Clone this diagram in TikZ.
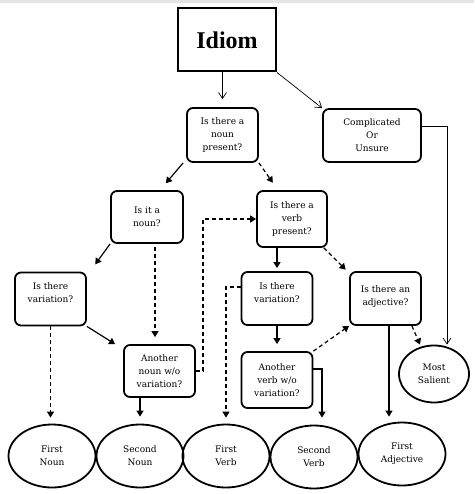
\documentclass[tikz,border=0pt]{standalone}
\usepackage{fontspec}
\setmainfont{DejaVu Serif}
\newfontfamily\idiomfont{Liberation Serif}
\usepackage{tikz}
\usetikzlibrary{positioning, arrows.meta, shapes.geometric}

\begin{document}
\begin{tikzpicture}[x=1pt,y=-1pt,
  qbox/.style={draw,rounded corners=6pt,line width=1.8pt,align=center,inner sep=0pt,
    font=\fontsize{9}{13}\selectfont},
  endoval/.style={ellipse,draw,line width=1.8pt,align=center,inner sep=0pt,
    minimum width=87pt,minimum height=63pt,font=\fontsize{9}{13}\selectfont},
  solidarr/.style={-{Triangle[length=6pt,width=7pt]},line width=1.2pt},
  dasharr/.style={-{Triangle[length=6pt,width=7pt]},line width=1.2pt,dash pattern=on 4pt off 3pt},
  thinarr/.style={-{Straight Barb[length=6pt,width=8pt]},line width=0.7pt}]
  \useasboundingbox (0,0) rectangle (474,494);
  \fill[gray!20] (0,0) rectangle (474,3);

  % boxes
  \node [draw,line width=2pt,minimum width=98pt,minimum height=63pt,font=\idiomfont\bfseries\fontsize{24}{28}\selectfont]
    (idiom) at (227,40) {Idiom};
  \node [qbox,minimum width=71pt,minimum height=54pt] (nounq) at (222.5,135) {Is there a\\noun\\present?};
  \node [qbox,minimum width=98pt,minimum height=53pt] (compl) at (372,135.5) {Complicated\\Or\\Unsure};
  \node [qbox,minimum width=72pt,minimum height=52pt] (isnoun) at (147,217) {Is it a\\noun?};
  \node [qbox,minimum width=70pt,minimum height=56pt] (verbq) at (292,219) {Is there a\\verb\\present?};
  \node [qbox,minimum width=71pt,minimum height=53pt,text depth=12pt] (varL) at (50.5,299) {Is there\\variation?};
  \node [qbox,minimum width=71pt,minimum height=53pt,text depth=12pt] (varR) at (277,298.5) {Is there\\variation?};
  \node [qbox,minimum width=71pt,minimum height=53pt,text depth=6pt] (adjq) at (385.5,298.5) {Is there an\\adjective?};
  \node [qbox,minimum width=71pt,minimum height=52pt] (anoun) at (159.5,371) {Another\\noun w/o\\variation?};
  \node [qbox,minimum width=71pt,minimum height=56pt] (averb) at (277,380) {Another\\verb w/o\\variation?};

  % outcomes
  \foreach \nm/\x/\y/\txt in {fnoun/52/456/{First\\Noun},snoun/140/456/{Second\\Noun},
      fverb/226/456/{First\\Verb},sverb/314/457/{Second\\Verb},fadj/402/454/{First\\Adjective}}
    \node [endoval] (\nm) at (\x,\y) {\txt};
  \node [endoval,minimum width=70pt,minimum height=57pt] (most) at (434,374) {Most\\Salient};

  % connectors
  \draw [thinarr,shorten >=8pt] (nounq.north |- idiom.south) -- (nounq.north);
  \draw [thinarr] (idiom.south east) -- (compl.north west);
  \draw [thinarr] ([yshift=9pt]compl.east) -| ([xshift=13pt]most.north);

  \draw [solidarr,shorten >=9pt] ([xshift=-3pt]nounq.south west) -- ([xshift=13pt]isnoun.north);
  \draw [dasharr,shorten >=9pt] (nounq.south east) -- ([xshift=-14pt]verbq.north);
  \draw [solidarr,shorten >=9pt] (isnoun.south west) -- ([xshift=3pt]varL.north east);
  \draw [dasharr,shorten <=3pt,shorten >=7pt] ([xshift=8pt]isnoun.south) -- ([xshift=-4.5pt]anoun.north);
  \draw [dasharr,shorten >=6pt] (varL.south) -- (varL.south |- fnoun.north);
  \draw [solidarr] (varL.south east) -- ([xshift=-8pt]anoun.north west);
  \draw [solidarr,shorten >=7pt] (anoun.south -| snoun.north) -- (snoun.north);
  \draw [dasharr] (anoun.east) -- ++(7,0) |- (verbq.west);
  \draw [solidarr,shorten >=3pt] (verbq.south -| varR.north) -- (varR.north);
  \draw [dasharr,shorten >=2pt] ([xshift=-4pt]verbq.south east) -- ([xshift=-2pt]adjq.north west);
  \draw [dasharr,shorten >=6pt] ([yshift=11.5pt]varR.west) -| (fverb.north);
  \draw [solidarr,shorten >=7pt] (varR.south) -- (averb.north);
  \draw [dasharr] (averb.north east) -- (adjq.south west);
  \draw [solidarr,shorten >=7pt] ([yshift=11pt]averb.east) -| ([xshift=8pt]sverb.north);
  \draw [solidarr,shorten >=5pt] ([xshift=3.5pt]adjq.south) -- ([xshift=-13pt]fadj.north);
  \draw [dasharr] ([xshift=-10pt]adjq.south east) -- ([xshift=-14pt]most.north);

\end{tikzpicture}
\end{document}
